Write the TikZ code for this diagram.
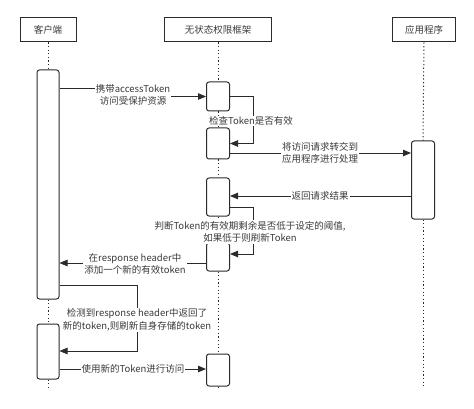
\documentclass[tikz,border=0pt]{standalone}
\usepackage{fontspec}
\newfontfamily\cjk{Noto Sans CJK SC}
\usetikzlibrary{arrows.meta}
\definecolor{seqInk}{HTML}{2B2B2B}
\definecolor{seqText}{HTML}{3A3A3A}
\tikzset{
  seq head/.style={draw=seqInk, line width=1pt, minimum height=24pt, inner sep=0pt, font=\cjk\fontsize{9.5}{12}\selectfont, text=seqText},
  seq act/.style={draw=seqInk, fill=white, line width=1pt, rounded corners=2.5pt, minimum width=22pt, inner sep=0pt},
  seq life/.style={draw=seqInk, line width=1pt, dash pattern=on 1.2pt off 2.4pt},
  seq msg/.style={draw=seqInk, line width=0.9pt, -{Triangle[length=8pt,width=6.5pt]}},
  seq label/.style={fill=white, inner sep=1pt, align=center, font=\cjk\fontsize{9.5}{12.5}\selectfont, text=seqText},
}
\begin{document}
\begin{tikzpicture}[x=1pt,y=-1pt]
  \useasboundingbox (0,0) rectangle (474,409);
  \node[seq head, minimum width=56pt] (client) at (48,30) {客户端};
  \node[seq head, minimum width=107pt] (auth) at (218,30) {无状态权限框架};
  \node[seq head, minimum width=63pt] (app) at (424,30) {应用程序};
  \node[seq act, minimum height=229pt] (c1) at (48,184.5) {};
  \node[seq act, minimum height=55pt] (c2) at (48,351.5) {};
  \node[seq act, minimum width=23pt, minimum height=29pt] (a1) at (218,96.5) {};
  \node[seq act, minimum width=23pt, minimum height=31pt] (a2) at (218,143.5) {};
  \node[seq act, minimum width=23pt, minimum height=38pt] (a3) at (218,197) {};
  \node[seq act, minimum width=23pt, minimum height=28pt] (a4) at (218,257) {};
  \node[seq act, minimum width=23pt, minimum height=32pt] (a5) at (218,370) {};
  \node[seq act, minimum width=23pt, minimum height=78pt] (p1) at (423,180) {};
  \coordinate (cend) at (48,388);
  \coordinate (aend) at (218,388);
  \coordinate (pend) at (423,388);
  \foreach \a/\b in {client/c1,c1/c2,auth/a1,a1/a2,a2/a3,a3/a4,a4/a5,app/p1}{\draw[seq life] (\a.south) -- (\b.north);}
  \draw[seq life] (c2.south) -- (cend);
  \draw[seq life] (a5.south) -- (aend);
  \draw[seq life] (p1.south) -- (pend);
  \draw[seq msg] (c1.east |- 0,88) -| (133,92) |- (a1.west);
  \draw[seq msg] (a1.east) -- ++(23,0) |- (a2.east);
  \draw[seq msg] (a2.east |- 0,153) -- (p1.west |- 0,153);
  \draw[seq msg] (p1.west |- 0,196) -- (a3.east |- 0,196);
  \draw[seq msg] (a3.east |- 0,207) -- ++(23,0) |- (a4.east |- 0,254);
  \draw[seq msg] (a4.west |- 0,263) -- (c1.east |- 0,263);
  \draw[seq msg] (c1.east |- 0,285) -- ++(78,0) |- (c2.east |- 0,351);
  \draw[seq msg] (c2.east |- 0,369) -- (a5.west |- 0,369);
  \node[seq label] (l1) at (133,95) {携带accessToken\\访问受保护资源};
  \node[seq label] (l2) at (251,121) {检查Token是否有效};
  \node[seq label] (l3) at (320,153) {将访问请求转交到\\应用程序进行处理};
  \node[seq label] (l4) at (320,196) {返回请求结果};
  \node[seq label] (l5) at (250,232) {判断Token的有效期剩余是否低于设定的阈值,\\如果低于则刷新Token};
  \node[seq label] (l6) at (135,264) {在response header中\\添加一个新的有效token};
  \node[seq label] (l7) at (137,320) {检测到response header中返回了\\新的token,则刷新自身存储的token};
  \node[seq label] (l8) at (133,369) {使用新的Token进行访问};
\end{tikzpicture}
\end{document}
